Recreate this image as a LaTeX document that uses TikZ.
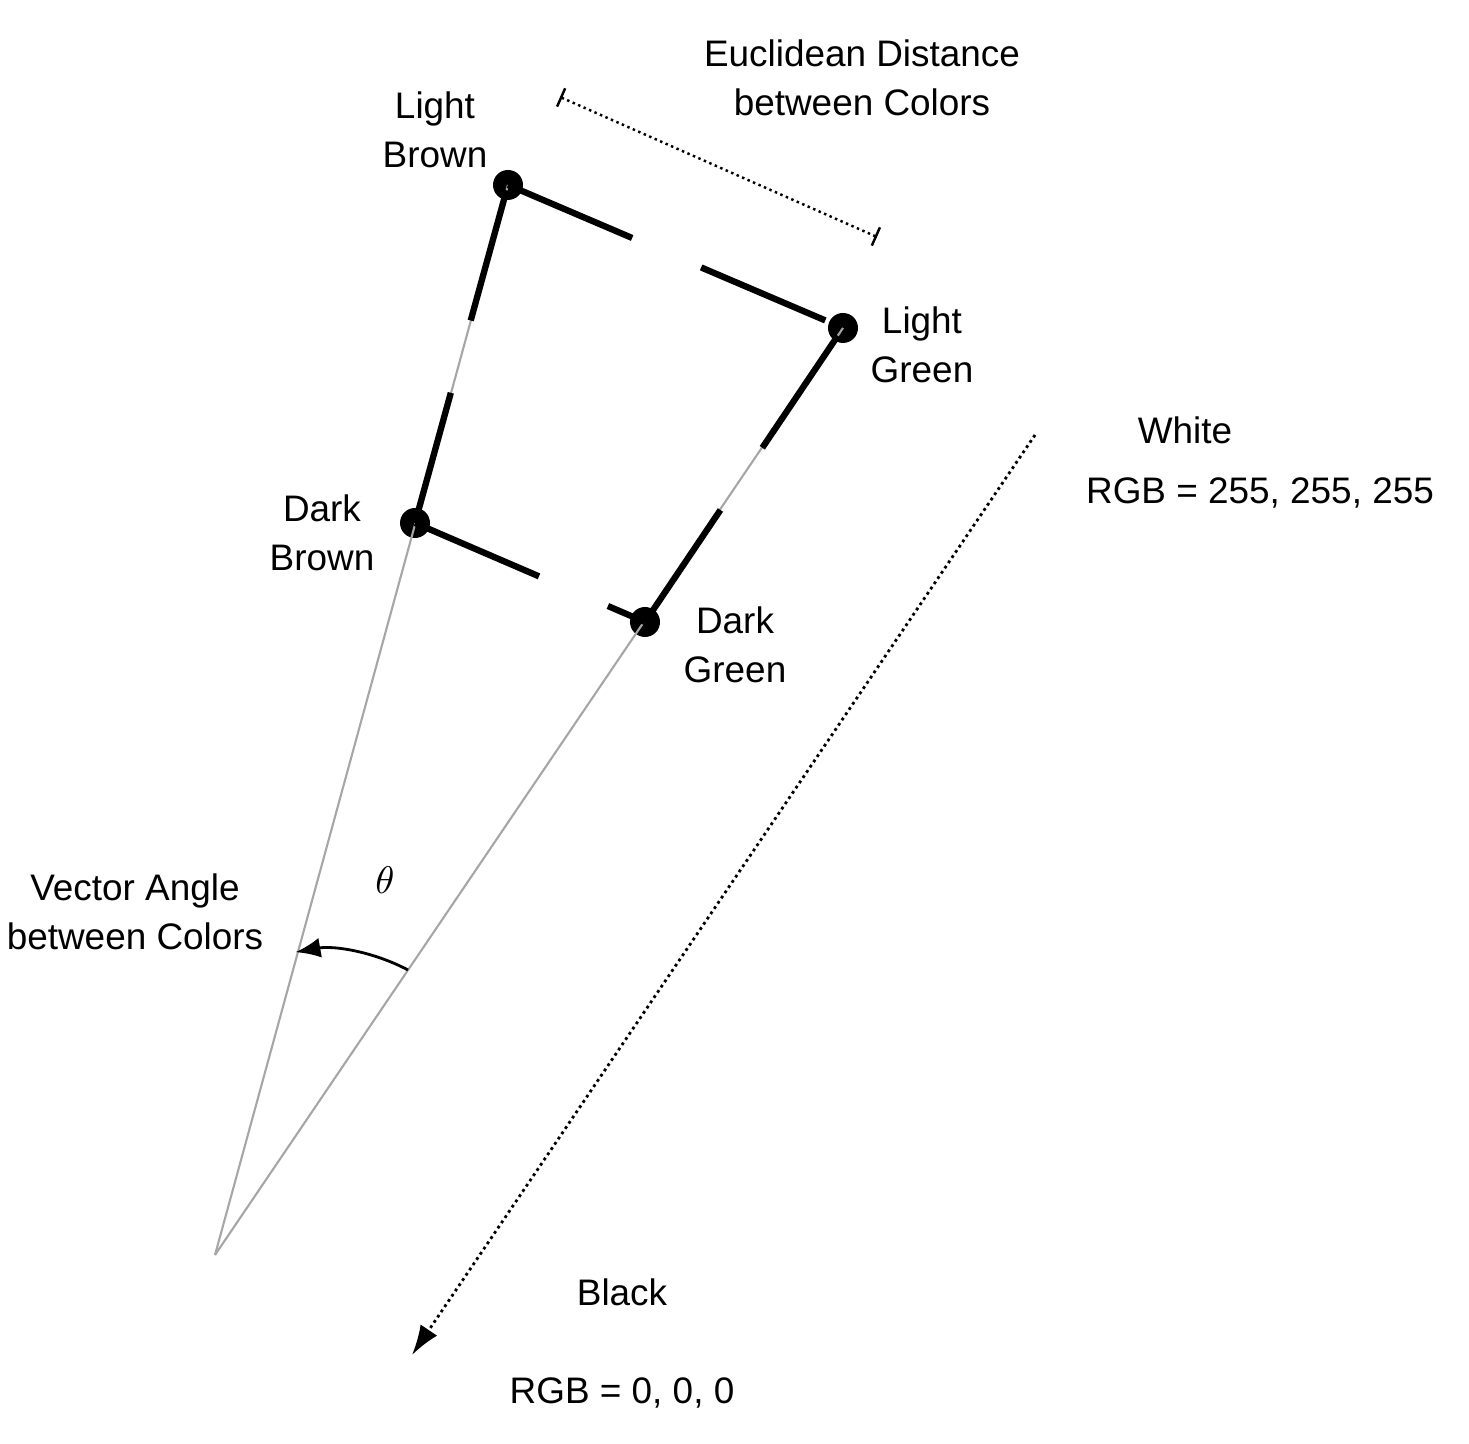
\documentclass[tikz,border=0pt]{standalone}
\usepackage{fontspec}
\setmainfont{Liberation Sans}
\usetikzlibrary{arrows.meta}
\begin{document}
\begin{tikzpicture}[
    font=\fontsize{10.5}{14}\selectfont,
    ray/.style={gray!70, line width=0.6pt},
    edge/.style={line width=1.8pt, dash pattern=on 1.35cm off 0.75cm},
    dot/.style={circle, fill=black, inner sep=0pt, minimum size=0.3cm},
    lbl/.style={align=center, inner sep=0pt}
]
        \useasboundingbox (0,0) rectangle (14.69,14.44);

        \coordinate (O) at (2.15,1.89);
        \node[dot] (DB) at (4.15,9.21) {};
        \node[dot] (LB) at (5.08,12.59) {};
        \node[dot] (DG) at (6.45,8.22) {};
        \node[dot] (LG) at (8.43,11.16) {};
        \coordinate (W) at (10.35,10.09);
        \coordinate (K) at (4.12,0.89);
        \coordinate (E1) at (5.60,13.47);
        \coordinate (E2) at (8.77,12.07);

        % rays from black
        \draw[ray] (O) -- (LB.center);
        \draw[ray] (O) -- (LG.center);

        % colour pairs
        \draw[edge] (LB.center) -- (LG.center);
        \draw[edge] (DB.center) -- (DG.center);
        \draw[edge] (DB.center) -- (LB.center);
        \draw[edge] (DG.center) -- (LG.center);

        % grey axis
        \draw[densely dotted, line width=0.8pt, -{Latex[length=0.3cm,width=0.2cm]}] (W) -- (K);

        % euclidean distance
        \draw[densely dotted, line width=0.7pt, {Bar[width=0.2cm]}-{Bar[width=0.2cm]}] (E1) -- (E2);

        % angle
        \draw[line width=0.8pt, -{Latex[length=0.25cm,width=0.2cm]}] (4.08,4.74) arc[start angle=62, end angle=100, radius=1.75cm];

        \node[lbl] (tLB) at (4.35,13.14) {Light\\Brown};
        \node[lbl] (tLG) at (9.22,10.99) {Light\\Green};
        \node[lbl] (tDB) at (3.22,9.11) {Dark\\Brown};
        \node[lbl] (tDG) at (7.35,7.99) {Dark\\Green};
        \node[lbl] (tW) at (11.85,10.14) {White};
        \node[lbl] (tWrgb) at (12.60,9.51) {RGB = 255, 255, 255};
        \node[lbl] (tK) at (6.22,1.52) {Black};
        \node[lbl] (tKrgb) at (6.22,0.51) {RGB = 0, 0, 0};
        \node[lbl] (tE) at (8.62,13.66) {Euclidean Distance\\between Colors};
        \node[lbl] (tA) at (1.35,5.32) {Vector Angle\\between Colors};
        \node[lbl] (tT) at (3.85,5.64) {$\theta$};
\end{tikzpicture}
\end{document}
